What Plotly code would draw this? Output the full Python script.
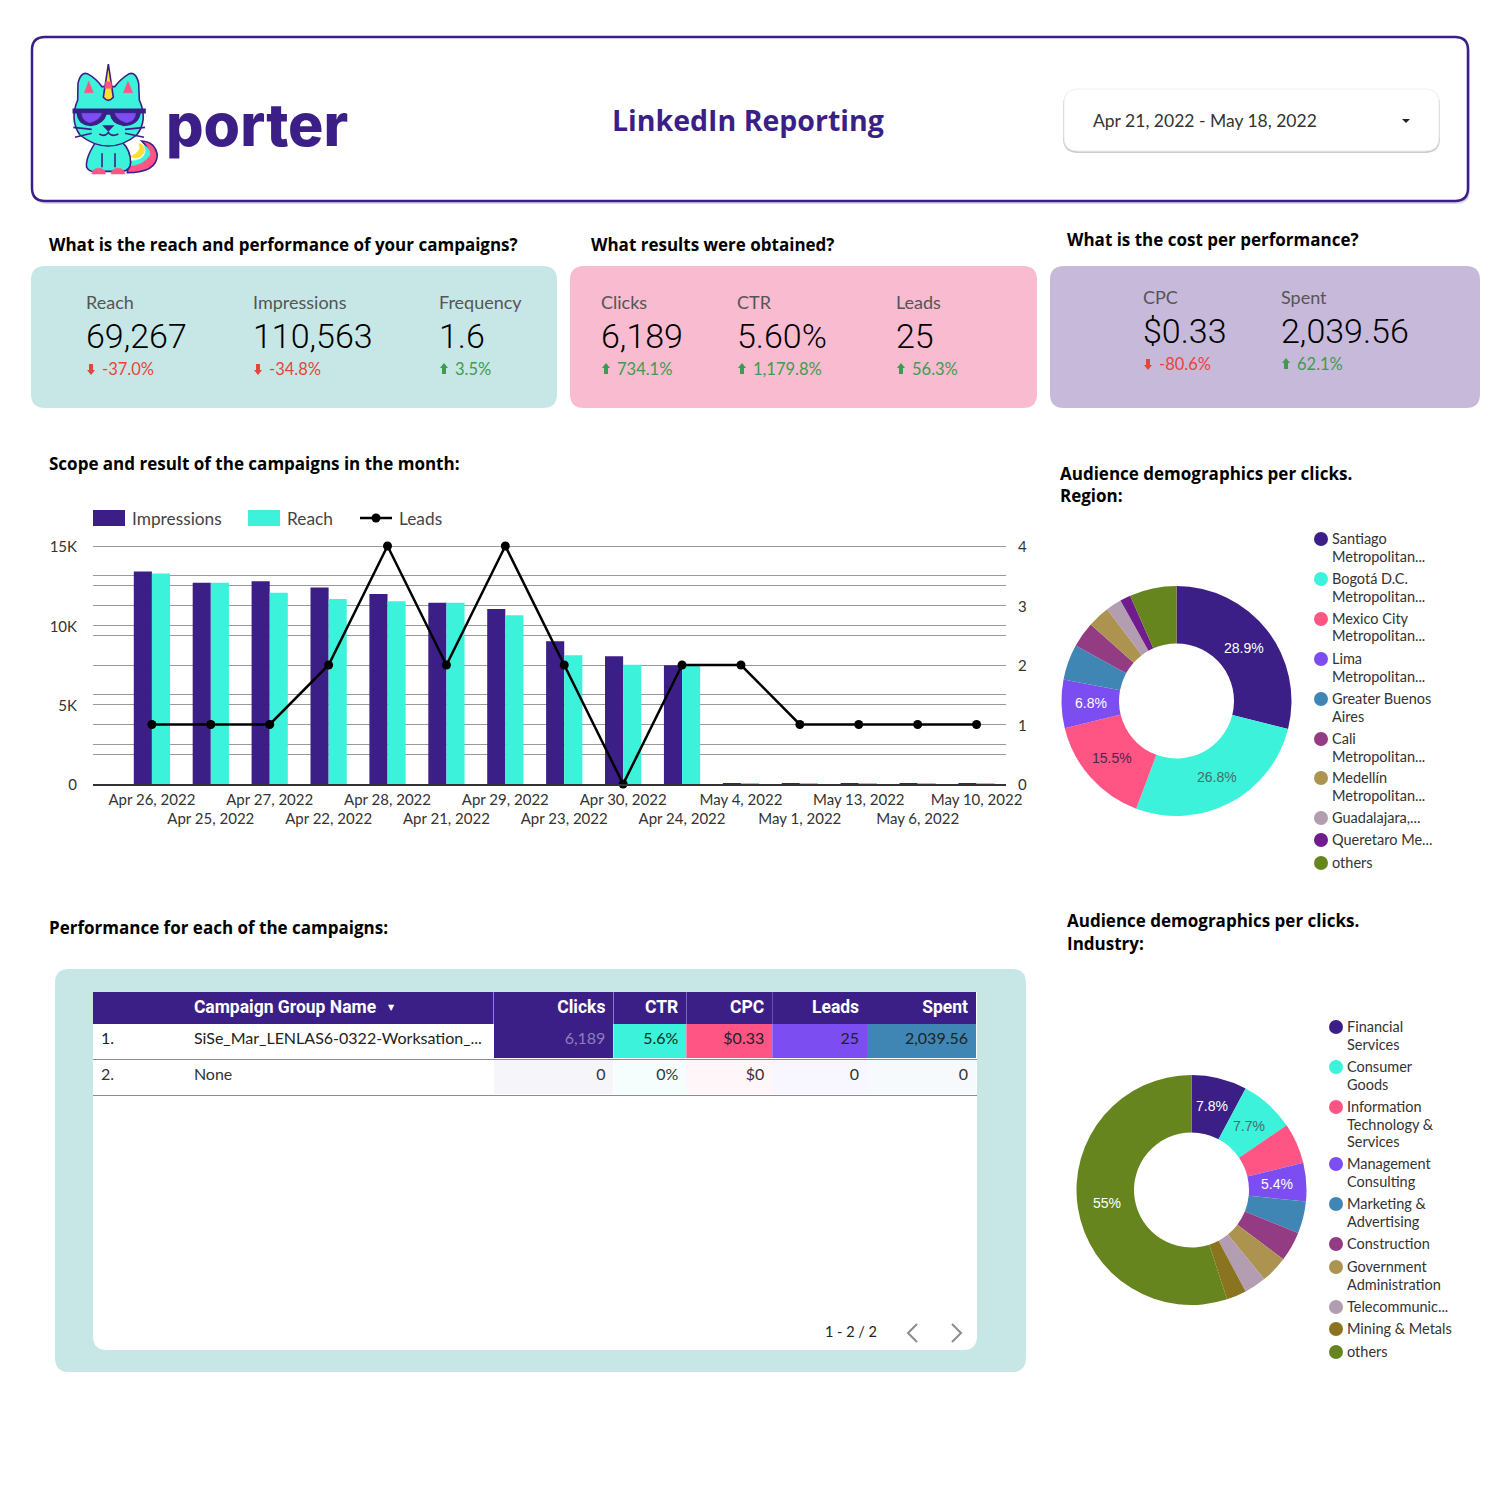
import math
import plotly.graph_objects as go

# ---------- data ----------
dates = ["Apr 26, 2022","Apr 25, 2022","Apr 27, 2022","Apr 22, 2022","Apr 28, 2022","Apr 21, 2022","Apr 29, 2022",
         "Apr 23, 2022","Apr 30, 2022","Apr 24, 2022","May 4, 2022","May 1, 2022","May 13, 2022","May 6, 2022","May 10, 2022"]
impressions = [13400,12690,12780,12380,11980,11430,11030,9000,8050,7490,25,18,12,8,6]
reach = [13260,12690,12060,11660,11520,11430,10640,8120,7510,7450,20,14,10,6,5]
leads = [1,1,1,2,4,2,4,2,0,2,2,1,1,1,1]

region_names = ["Santiago\nMetropolitan...","Bogotá D.C.\nMetropolitan...","Mexico City\nMetropolitan...","Lima\nMetropolitan...",
                "Greater Buenos\nAires","Cali\nMetropolitan...","Medellín\nMetropolitan...","Guadalajara,...","Queretaro Me...","others"]
region_vals = [28.9,26.8,15.5,6.8,5.0,3.6,3.1,2.2,1.5,6.6]
region_text = ["28.9%","26.8%","15.5%","6.8%","","","","","",""]
region_legend_y = [539,579,619,659,699,739,778,818,840,863]

industry_names = ["Financial\nServices","Consumer\nGoods","Information\nTechnology &\nServices","Management\nConsulting",
                  "Marketing &\nAdvertising","Construction","Government\nAdministration","Telecommunic...","Mining & Metals","others"]
industry_vals = [7.8,7.7,5.7,5.4,4.5,4.2,3.8,3.1,2.8,55]
industry_text = ["7.8%","7.7%","","5.4%","","","","","","55%"]
industry_legend_y = [1027,1067,1107,1164,1204,1244,1267,1307,1329,1352]

slice_colors = ["#3B1F87","#3DF2DB","#FF5585","#7C4DF0","#3F86B5","#933B83","#AD9350","#B39DB0","#701C8C","#66851F"]
industry_colors = slice_colors[:8]+["#8A7420","#66851F"]
region_txtcol = ["#FFFFFF","#4A6B68","#4A2A45","#FFFFFF"]+["#FFFFFF"]*6
industry_txtcol = ["#FFFFFF","#4A6B68","#FFFFFF","#FFFFFF"]+["#FFFFFF"]*6

kpis = [("Reach","69,267","-37.0%",False,86,302),("Impressions","110,563","-34.8%",False,253,302),("Frequency","1.6","3.5%",True,439,302),
        ("Clicks","6,189","734.1%",True,601,302),("CTR","5.60%","1,179.8%",True,737,302),("Leads","25","56.3%",True,896,302),
        ("CPC","$0.33","-80.6%",False,1143,297),("Spent","2,039.56","62.1%",True,1281,297)]

titles = [("What is the reach and performance of your campaigns?",49,245),("What results were obtained?",591,245),
          ("What is the cost per performance?",1067,240),("Scope and result of the campaigns in the month:",49,464),
          ("Audience demographics per clicks.",1060,474),("Region:",1060,496),("Performance for each of the campaigns:",49,928),
          ("Audience demographics per clicks.",1067,921),("Industry:",1067,944)]

table_head = ["","Campaign Group Name","Clicks","CTR","CPC","Leads","Spent"]
row1 = ["1.","SiSe_Mar_LENLAS6-0322-Worksation_...","6,189","5.6%","$0.33","25","2,039.56"]
row2 = ["2.","None","0","0%","$0","0","0"]
col_widths = [93,308,120,73,86,95,109]
row1_fill = ["#FFFFFF","#FFFFFF","#3B1F87","#3DF2DB","#FF5585","#7C4DF0","#3F86B5"]
row2_fill = ["#FFFFFF","#FFFFFF","#F5F5FA","#F6FEFD","#FFF6F9","#F8F6FE","#F6FAFC"]
row1_font = ["#222222","#222222","#8B80B8","#222222","#222222","#222222","#222222"]

PURPLE = "#3B1F87"; PANEL = "#C6E7E5"
FONT = "Lato"; BOLD = "Open Sans"

# ---------- helpers ----------
X = lambda x: x/1500
Y = lambda y: 1-y/1500
shapes, annos = [], []

def rrect(x0,y0,x1,y1,r,fill,line=None,lw=0,tl=True,bl=True):
    tr = r if tl else 0; br = r if bl else 0
    p = (f"M {X(x0+tr)} {Y(y0)} L {X(x1-tr)} {Y(y0)} Q {X(x1)} {Y(y0)} {X(x1)} {Y(y0+tr)} "
         f"L {X(x1)} {Y(y1-br)} Q {X(x1)} {Y(y1)} {X(x1-br)} {Y(y1)} L {X(x0+br)} {Y(y1)} "
         f"Q {X(x0)} {Y(y1)} {X(x0)} {Y(y1-br)} L {X(x0)} {Y(y0+tr)} Q {X(x0)} {Y(y0)} {X(x0+tr)} {Y(y0)} Z")
    shapes.append(dict(type="path",xref="paper",yref="paper",path=p,fillcolor=fill,layer="below",
                       line=dict(color=line or fill,width=lw)))

def text(s,x,y,size=15,color="#333333",font=FONT,anchor="left",weight=None):
    f = dict(size=size,color=color,family=font)
    if weight: f["weight"] = weight
    annos.append(dict(text=s,x=X(x),y=Y(y-0.4),xref="paper",yref="paper",xanchor=anchor,yanchor="middle",
                      showarrow=False,font=f,borderpad=0,borderwidth=0))

def line(x0,y0,x1,y1,color,w=1):
    shapes.append(dict(type="line",xref="paper",yref="paper",x0=X(x0),y0=Y(y0),x1=X(x1),y1=Y(y1),layer="below",
                       line=dict(color=color,width=w)))

def circle(cx,cy,r,color):
    shapes.append(dict(type="circle",xref="paper",yref="paper",x0=X(cx-r),x1=X(cx+r),y0=Y(cy+r),y1=Y(cy-r),
                       fillcolor=color,line=dict(width=0),layer="below"))

def poly(pts,fill):
    p = " ".join(("M" if i==0 else "L")+f" {X(a)} {Y(b)}" for i,(a,b) in enumerate(pts))+" Z"
    shapes.append(dict(type="path",xref="paper",yref="paper",path=p,fillcolor=fill,layer="below",line=dict(width=0)))

def zpath(d,fill,lc=PURPLE,lw=1.6):
    """path given in logo coordinates (3x crop with origin at 40,40)"""
    out=[]
    for t in d.split():
        if t.isalpha(): out.append(t); continue
        a,b=t.split(",")
        out.append(f"{X(40+float(a)/3)} {Y(40+float(b)/3)}")
    shapes.append(dict(type="path",xref="paper",yref="paper",path=" ".join(out),fillcolor=fill,layer="below",
                       line=dict(color=lc,width=lw)))

# ---------- frame ----------
rrect(33,40,1470,204,14,"rgba(60,40,130,0.18)")
rrect(32,37,1468,201,13,"#FFFFFF",PURPLE,2.5)
rrect(1063,90,1440,153,15,"rgba(0,0,0,0.20)")
rrect(1064,89,1439,151,14,"#FFFFFF","#F0F0F0",1)
text("Apr 21, 2022 - May 18, 2022",1093,121,17.5,"#333333")
poly([(1402,119),(1410,119),(1406,123)],"#222222")
text("LinkedIn Reporting",748,120,28.5,PURPLE,BOLD,"center",700)

# logo
T="#3DF2DB"; P="#FF5585"; Yl="#FFDD33"; V="#7C4DF0"
zpath("M 262,398 Q 350,398 352,345 Q 345,305 305,303 Q 335,330 318,352 Q 300,372 265,375 Z",P)
zpath("M 265,378 Q 312,375 330,345 Q 330,325 312,315 Q 325,345 298,358 Q 280,365 265,362 Z",T,T,0.5)
zpath("M 296,310 Q 308,335 270,350 Q 298,362 312,338 Q 318,316 296,310 Z",Yl,Yl,0.5)
zpath("M 168,305 Q 135,355 140,382 Q 150,398 170,394 L 245,394 Q 270,394 272,368 Q 272,330 245,305 Z",T)
zpath("M 155,402 Q 158,385 176,385 Q 195,385 197,402 Z",P,P,0.5)
zpath("M 213,402 Q 216,385 234,385 Q 252,385 255,402 Z",P,P,0.5)
zpath("M 186,340 L 186,382",T); zpath("M 225,340 L 225,382",T)
zpath("M 113,180 L 114,130 Q 122,95 142,101 Q 168,115 186,140 L 224,140 Q 244,115 268,101 Q 288,95 296,130 L 298,180 Q 325,240 290,285 Q 250,318 205,318 Q 160,318 120,285 Q 88,240 113,180 Z",T)
zpath("M 133,158 L 146,124 L 160,158 Z",P,P,0.5)
zpath("M 250,158 L 264,124 L 278,158 Z",P,P,0.5)
zpath("M 205,72 L 190,172 Q 205,190 220,172 Z",Yl)
zpath("M 197,125 L 213,125 L 216,145 L 194,145 Z",P,P,0.5)
zpath("M 100,208 L 315,208 L 315,218 L 300,218 Q 295,255 250,256 Q 215,250 212,222 L 198,222 Q 190,250 155,256 Q 115,255 112,218 L 100,218 Z",PURPLE)
zpath("M 125,220 L 185,220 Q 180,240 150,248 Q 128,245 125,220 Z",V,V,0.5)
zpath("M 225,220 L 287,220 Q 285,245 260,248 Q 230,240 225,220 Z",V,V,0.5)
for d in ["M 100,262 L 155,268","M 105,292 L 155,280","M 255,268 L 315,262","M 255,280 L 312,292",
          "M 178,282 Q 195,292 205,277 Q 215,292 235,282"]:
    zpath(d,"rgba(0,0,0,0)")
zpath("M 192,258 L 218,258 L 205,272 Z",PURPLE)
text("porter",166,125,59,PURPLE,"Inter","left",800)

# ---------- section titles ----------
for s,x,y in titles:
    text(s,x,y,17,"#000000",BOLD,"left",700)

# ---------- KPI cards ----------
rrect(31,266,557,408,14,PANEL)
rrect(570,266,1037,408,14,"#F8BBD0")
rrect(1050,266,1480,408,14,"#C7B9DA")
for lab,val,delta,up,x,y in kpis:
    text(lab,x,y,18,"#555555")
    text(val,x,y+34,34,"#000000","Roboto","left",300)
    col = "#3E9B4F" if up else "#E8443A"
    ay = y+67
    if up:
        poly([(x+5,ay-6),(x+9,ay-1),(x+7,ay-1),(x+7,ay+5),(x+3,ay+5),(x+3,ay-1),(x+1,ay-1)],col)
    else:
        poly([(x+5,ay+6),(x+9,ay+1),(x+7,ay+1),(x+7,ay-5),(x+3,ay-5),(x+3,ay+1),(x+1,ay+1)],col)
    text(delta,x+16,ay,16.5,col)

# ---------- table panel ----------
rrect(55,969,1026,1372,14,PANEL)
rrect(93,992,977,1350,14,"#FFFFFF",tl=False)
line(93,1059.5,977,1059.5,"#8C8C8C",1.2)
line(93,1095.5,977,1095.5,"#8C8C8C",1.2)
text("1 - 2 / 2",825,1332,14.5,"#222222")
text("▼",388,1008,8,"#FFFFFF","DejaVu Sans")
for d in [(917,1324,908,1333,917,1342),(952,1324,961,1333,952,1342)]:
    shapes.append(dict(type="path",xref="paper",yref="paper",layer="below",
        path=f"M {X(d[0])} {Y(d[1])} L {X(d[2])} {Y(d[3])} L {X(d[4])} {Y(d[5])}",line=dict(color="#8C8C8C",width=2)))

# ---------- legends ----------
rrect(93,510,125,526,0,PURPLE); text("Impressions",132,519,17.3,"#444444")
rrect(248,510,280,526,0,"#3DF2DB"); text("Reach",287,519,17.3,"#444444")
line(360,518,392,518,"#000000",2.5); circle(376,518,4.5,"#000000"); text("Leads",399,519,17.3,"#444444")

def pie_legend(names,ys,cols,cx,tx):
    for n,y,c in zip(names,ys,cols):
        circle(cx,y,7,c)
        for i,part in enumerate(n.split("\n")):
            text(part,tx,y+i*17.4,14.5,"#333333")
pie_legend(region_names,region_legend_y,slice_colors,1321,1332)
pie_legend(industry_names,industry_legend_y,industry_colors,1336,1347)

# ---------- figure ----------
fig = go.Figure()
fig.add_bar(x=dates,y=impressions,name="Impressions",marker=dict(color=PURPLE,line=dict(width=0)))
fig.add_bar(x=dates,y=reach,name="Reach",marker=dict(color="#3DF2DB",line=dict(width=0)))
fig.add_scatter(x=dates,y=leads,name="Leads",yaxis="y2",mode="lines+markers",cliponaxis=False,
                line=dict(color="#000000",width=2.5),marker=dict(color="#000000",size=9))

def donut(vals,txt,cols,tcols,cx,cy):
    R=115
    fig.add_pie(values=vals,textinfo="none",sort=False,direction="clockwise",rotation=0,hole=0.5,
                marker=dict(colors=cols,line=dict(width=0)),
                domain=dict(x=[X(cx-R),X(cx+R)],y=[Y(cy+R),Y(cy-R)]),showlegend=False)
    total=sum(vals); acc=0
    for v,t,c in zip(vals,txt,tcols):
        a=(acc+v/2)/total*2*math.pi; acc+=v
        if t:
            text(t,cx+86*math.sin(a),cy-86*math.cos(a),14,c,"Liberation Sans","center")
donut(region_vals,region_text,slice_colors,region_txtcol,1176.5,701)
donut(industry_vals,industry_text,industry_colors,industry_txtcol,1191.5,1190)

def cols(row): return [[v] for v in row]
ALIGN=["left","left","right","right","right","right","right"]
fig.add_table(domain=dict(x=[X(93),X(977)],y=[Y(1059),Y(992)]),columnwidth=col_widths,
    header=dict(values=table_head,height=32,fill_color=PURPLE,line=dict(width=0),align=ALIGN,
                font=dict(family="Roboto",size=17.5,color="#FFFFFF",weight=700)),
    cells=dict(values=cols(row1),height=35,fill_color=[[c] for c in row1_fill],line=dict(width=0),align=ALIGN,
               font=dict(family=FONT,size=16,color=[[c] for c in row1_font])))
fig.add_table(domain=dict(x=[X(93),X(977)],y=[Y(1095),Y(1060)]),columnwidth=col_widths,
    header=dict(values=row2,height=35,fill_color=[[c] for c in row2_fill],line=dict(width=0),align=ALIGN,
                font=dict(family=FONT,size=16,color="#333333")),
    cells=dict(values=[[] for _ in row2],height=1,line=dict(width=0)))

GRID="#9A9A9A"
# the plot extends 2px above the 15K / 4 lines so that the top gridline is kept
EXTRA = 240/238
fig.update_layout(width=1500,height=1500,margin=dict(l=0,r=0,t=0,b=0),paper_bgcolor="#FFFFFF",plot_bgcolor="#FFFFFF",
    showlegend=False,shapes=shapes,annotations=annos,barmode="group",bargap=0.385,bargroupgap=0,
    font=dict(family=FONT,color="#333333",size=15),
    xaxis=dict(domain=[X(93),X(1006)],type="category",range=[-1,14.5],tickmode="array",tickvals=dates,
               ticktext=[d if i%2==0 else "&nbsp;<br>"+d for i,d in enumerate(dates)],tickangle=0,
               showgrid=False,showline=True,linecolor="#333333",linewidth=1.5,ticks="",ticklabelstandoff=1,
               tickfont=dict(size=15,color="#333333"),automargin=False),
    yaxis=dict(domain=[Y(784),Y(544)],range=[0,15000*EXTRA],tickmode="array",tickvals=[0,5000,10000,15000],
               ticktext=["0","5K","10K","15K"],showgrid=True,gridcolor=GRID,gridwidth=1,zeroline=False,
               minor=dict(showgrid=True,gridcolor=GRID,gridwidth=1,tickmode="linear",tick0=0,dtick=2500),
               ticks="",ticklabelstandoff=15,ticklabelshift=1,tickfont=dict(size=15,color="#333333"),automargin=False),
    yaxis2=dict(overlaying="y",side="right",range=[0,4*EXTRA],tickmode="array",tickvals=[0,1,2,3,4],showgrid=True,
                gridcolor=GRID,gridwidth=1,zeroline=False,anchor="x",
                minor=dict(showgrid=True,gridcolor=GRID,gridwidth=1,tickmode="linear",tick0=0,dtick=0.5),
                ticks="",ticklabelstandoff=11,ticklabelshift=1,tickfont=dict(size=15,color="#333333"),automargin=False),
)
fig.write_html("out.html",post_script="document.body.style.margin='0';",config=dict(displayModeBar=False))
